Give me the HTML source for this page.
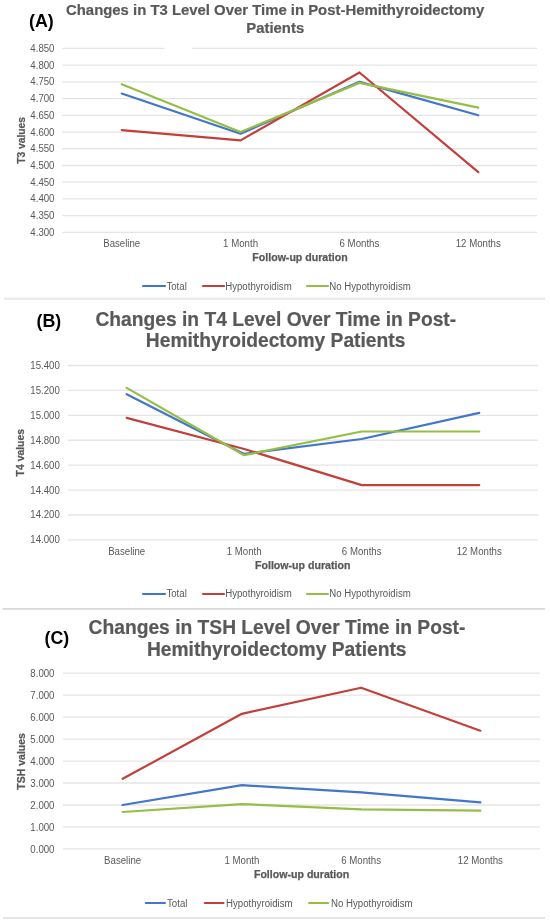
<!DOCTYPE html>
<html><head><meta charset="utf-8"><title>Thyroid levels</title>
<style>
html,body{margin:0;padding:0;background:#fff}
svg{display:block}
text{font-family:"Liberation Sans",Arial,sans-serif}
.ax{font-size:10.6px;fill:#595959}
.axb{font-size:10.6px;font-weight:bold;fill:#595959;stroke:#595959;stroke-width:0.25px}
.pl{font-weight:bold;fill:#000}
.tt{font-weight:bold;fill:#595959;stroke:#595959;stroke-width:0.2px}
</style></head><body>
<svg width="550" height="922" viewBox="0 0 550 922">
<rect width="550" height="922" fill="#fff"/>
<line x1="62.3" y1="48.40" x2="537" y2="48.40" stroke="#E5E5E5" stroke-width="1.3"/>
<line x1="62.3" y1="65.13" x2="537" y2="65.13" stroke="#E5E5E5" stroke-width="1.3"/>
<line x1="62.3" y1="81.85" x2="537" y2="81.85" stroke="#E5E5E5" stroke-width="1.3"/>
<line x1="62.3" y1="98.58" x2="537" y2="98.58" stroke="#E5E5E5" stroke-width="1.3"/>
<line x1="62.3" y1="115.31" x2="537" y2="115.31" stroke="#E5E5E5" stroke-width="1.3"/>
<line x1="62.3" y1="132.04" x2="537" y2="132.04" stroke="#E5E5E5" stroke-width="1.3"/>
<line x1="62.3" y1="148.76" x2="537" y2="148.76" stroke="#E5E5E5" stroke-width="1.3"/>
<line x1="62.3" y1="165.49" x2="537" y2="165.49" stroke="#E5E5E5" stroke-width="1.3"/>
<line x1="62.3" y1="182.22" x2="537" y2="182.22" stroke="#E5E5E5" stroke-width="1.3"/>
<line x1="62.3" y1="198.95" x2="537" y2="198.95" stroke="#E5E5E5" stroke-width="1.3"/>
<line x1="62.3" y1="215.67" x2="537" y2="215.67" stroke="#E5E5E5" stroke-width="1.3"/>
<line x1="62.3" y1="232.40" x2="537" y2="232.40" stroke="#E5E5E5" stroke-width="1.3"/>
<text transform="translate(54.50,51.90) scale(0.913,1)" text-anchor="end" class="ax">4.850</text>
<text transform="translate(54.50,68.63) scale(0.913,1)" text-anchor="end" class="ax">4.800</text>
<text transform="translate(54.50,85.35) scale(0.913,1)" text-anchor="end" class="ax">4.750</text>
<text transform="translate(54.50,102.08) scale(0.913,1)" text-anchor="end" class="ax">4.700</text>
<text transform="translate(54.50,118.81) scale(0.913,1)" text-anchor="end" class="ax">4.650</text>
<text transform="translate(54.50,135.54) scale(0.913,1)" text-anchor="end" class="ax">4.600</text>
<text transform="translate(54.50,152.26) scale(0.913,1)" text-anchor="end" class="ax">4.550</text>
<text transform="translate(54.50,168.99) scale(0.913,1)" text-anchor="end" class="ax">4.500</text>
<text transform="translate(54.50,185.72) scale(0.913,1)" text-anchor="end" class="ax">4.450</text>
<text transform="translate(54.50,202.45) scale(0.913,1)" text-anchor="end" class="ax">4.400</text>
<text transform="translate(54.50,219.17) scale(0.913,1)" text-anchor="end" class="ax">4.350</text>
<text transform="translate(54.50,235.90) scale(0.913,1)" text-anchor="end" class="ax">4.300</text>
<polyline points="121.72,93.56 240.57,133.71 359.43,81.85 478.28,115.31" fill="none" stroke="#4176C9" stroke-width="2.2" stroke-linejoin="round" stroke-linecap="round"/>
<polyline points="121.72,130.03 240.57,140.40 359.43,72.49 478.28,172.18" fill="none" stroke="#C2403B" stroke-width="2.2" stroke-linejoin="round" stroke-linecap="round"/>
<polyline points="121.72,84.20 240.57,132.04 359.43,82.86 478.28,107.61" fill="none" stroke="#96BE46" stroke-width="2.2" stroke-linejoin="round" stroke-linecap="round"/>
<text transform="translate(121.72,246.90) scale(0.913,1)" text-anchor="middle" class="ax">Baseline</text>
<text transform="translate(240.57,246.90) scale(0.913,1)" text-anchor="middle" class="ax">1 Month</text>
<text transform="translate(359.43,246.90) scale(0.913,1)" text-anchor="middle" class="ax">6 Months</text>
<text transform="translate(478.28,246.90) scale(0.913,1)" text-anchor="middle" class="ax">12 Months</text>
<text x="300" y="261.4" text-anchor="middle" class="axb">Follow-up duration</text>
<text transform="translate(24.6,140.4) rotate(-90)" text-anchor="middle" class="axb" style="font-size:10.25px">T3 values</text>
<line x1="143" y1="286" x2="165" y2="286" stroke="#4176C9" stroke-width="2.2" stroke-linecap="round"/>
<text transform="translate(166.40,289.70) scale(0.913,1)" text-anchor="start" class="ax">Total</text>
<line x1="203" y1="286" x2="224" y2="286" stroke="#C2403B" stroke-width="2.2" stroke-linecap="round"/>
<text transform="translate(225.20,289.70) scale(0.913,1)" text-anchor="start" class="ax">Hypothyroidism</text>
<line x1="307" y1="286" x2="328" y2="286" stroke="#96BE46" stroke-width="2.2" stroke-linecap="round"/>
<text transform="translate(329.20,289.70) scale(0.913,1)" text-anchor="start" class="ax">No Hypothyroidism</text>
<text x="29" y="26.7" class="pl" style="font-size:17.8px">(A)</text>
<text transform="translate(275.2,15.4) scale(0.9675,1)" text-anchor="middle" class="tt" style="font-size:15.4px">Changes in T3 Level Over Time in Post-Hemithyroidectomy</text>
<text transform="translate(275.2,32.6) scale(0.9675,1)" text-anchor="middle" class="tt" style="font-size:15.4px">Patients</text>
<rect x="164.5" y="44" width="27.5" height="8" fill="#fff"/>
<line x1="4" y1="297.6" x2="545" y2="297.6" stroke="#F6F6F6" stroke-width="1.6"/>
<line x1="4" y1="299" x2="545" y2="299" stroke="#E6E6E6" stroke-width="1.6"/>
<line x1="67.9" y1="365.50" x2="538" y2="365.50" stroke="#E5E5E5" stroke-width="1.3"/>
<line x1="67.9" y1="390.41" x2="538" y2="390.41" stroke="#E5E5E5" stroke-width="1.3"/>
<line x1="67.9" y1="415.33" x2="538" y2="415.33" stroke="#E5E5E5" stroke-width="1.3"/>
<line x1="67.9" y1="440.24" x2="538" y2="440.24" stroke="#E5E5E5" stroke-width="1.3"/>
<line x1="67.9" y1="465.16" x2="538" y2="465.16" stroke="#E5E5E5" stroke-width="1.3"/>
<line x1="67.9" y1="490.07" x2="538" y2="490.07" stroke="#E5E5E5" stroke-width="1.3"/>
<line x1="67.9" y1="514.99" x2="538" y2="514.99" stroke="#E5E5E5" stroke-width="1.3"/>
<line x1="67.9" y1="539.90" x2="538" y2="539.90" stroke="#E5E5E5" stroke-width="1.3"/>
<text transform="translate(59.80,369.00) scale(0.913,1)" text-anchor="end" class="ax">15.400</text>
<text transform="translate(59.80,393.91) scale(0.913,1)" text-anchor="end" class="ax">15.200</text>
<text transform="translate(59.80,418.83) scale(0.913,1)" text-anchor="end" class="ax">15.000</text>
<text transform="translate(59.80,443.74) scale(0.913,1)" text-anchor="end" class="ax">14.800</text>
<text transform="translate(59.80,468.66) scale(0.913,1)" text-anchor="end" class="ax">14.600</text>
<text transform="translate(59.80,493.57) scale(0.913,1)" text-anchor="end" class="ax">14.400</text>
<text transform="translate(59.80,518.49) scale(0.913,1)" text-anchor="end" class="ax">14.200</text>
<text transform="translate(59.80,543.40) scale(0.913,1)" text-anchor="end" class="ax">14.000</text>
<polyline points="126.66,394.15 244.19,453.95 361.71,439.00 479.24,412.84" fill="none" stroke="#4176C9" stroke-width="2.2" stroke-linejoin="round" stroke-linecap="round"/>
<polyline points="126.66,417.82 244.19,448.96 361.71,485.09 479.24,485.09" fill="none" stroke="#C2403B" stroke-width="2.2" stroke-linejoin="round" stroke-linecap="round"/>
<polyline points="126.66,387.92 244.19,455.19 361.71,431.52 479.24,431.52" fill="none" stroke="#96BE46" stroke-width="2.2" stroke-linejoin="round" stroke-linecap="round"/>
<text transform="translate(126.66,554.70) scale(0.913,1)" text-anchor="middle" class="ax">Baseline</text>
<text transform="translate(244.19,554.70) scale(0.913,1)" text-anchor="middle" class="ax">1 Month</text>
<text transform="translate(361.71,554.70) scale(0.913,1)" text-anchor="middle" class="ax">6 Months</text>
<text transform="translate(479.24,554.70) scale(0.913,1)" text-anchor="middle" class="ax">12 Months</text>
<text x="302.7" y="569.0" text-anchor="middle" class="axb">Follow-up duration</text>
<text transform="translate(24.4,452.7) rotate(-90)" text-anchor="middle" class="axb" style="font-size:10.4px">T4 values</text>
<line x1="143" y1="594" x2="165" y2="594" stroke="#4176C9" stroke-width="2.2" stroke-linecap="round"/>
<text transform="translate(166.40,597.20) scale(0.913,1)" text-anchor="start" class="ax">Total</text>
<line x1="203" y1="594" x2="224" y2="594" stroke="#C2403B" stroke-width="2.2" stroke-linecap="round"/>
<text transform="translate(225.20,597.20) scale(0.913,1)" text-anchor="start" class="ax">Hypothyroidism</text>
<line x1="307" y1="594" x2="328" y2="594" stroke="#96BE46" stroke-width="2.2" stroke-linecap="round"/>
<text transform="translate(329.20,597.20) scale(0.913,1)" text-anchor="start" class="ax">No Hypothyroidism</text>
<text x="36.5" y="326.6" class="pl" style="font-size:17.8px">(B)</text>
<text transform="translate(275.8,326.0) scale(0.9615,1)" text-anchor="middle" class="tt" style="font-size:20.0px">Changes in T4 Level Over Time in Post-</text>
<text transform="translate(275.6,346.8) scale(0.9615,1)" text-anchor="middle" class="tt" style="font-size:20.0px">Hemithyroidectomy Patients</text>
<line x1="2.5" y1="608.8" x2="545" y2="608.8" stroke="#D8D8D8" stroke-width="1.7"/>
<line x1="63" y1="673.20" x2="540" y2="673.20" stroke="#E5E5E5" stroke-width="1.3"/>
<line x1="63" y1="695.16" x2="540" y2="695.16" stroke="#E5E5E5" stroke-width="1.3"/>
<line x1="63" y1="717.12" x2="540" y2="717.12" stroke="#E5E5E5" stroke-width="1.3"/>
<line x1="63" y1="739.09" x2="540" y2="739.09" stroke="#E5E5E5" stroke-width="1.3"/>
<line x1="63" y1="761.05" x2="540" y2="761.05" stroke="#E5E5E5" stroke-width="1.3"/>
<line x1="63" y1="783.01" x2="540" y2="783.01" stroke="#E5E5E5" stroke-width="1.3"/>
<line x1="63" y1="804.98" x2="540" y2="804.98" stroke="#E5E5E5" stroke-width="1.3"/>
<line x1="63" y1="826.94" x2="540" y2="826.94" stroke="#E5E5E5" stroke-width="1.3"/>
<line x1="63" y1="848.90" x2="540" y2="848.90" stroke="#E5E5E5" stroke-width="1.3"/>
<text transform="translate(54.50,677.10) scale(0.913,1)" text-anchor="end" class="ax">8.000</text>
<text transform="translate(54.50,699.06) scale(0.913,1)" text-anchor="end" class="ax">7.000</text>
<text transform="translate(54.50,721.02) scale(0.913,1)" text-anchor="end" class="ax">6.000</text>
<text transform="translate(54.50,742.99) scale(0.913,1)" text-anchor="end" class="ax">5.000</text>
<text transform="translate(54.50,764.95) scale(0.913,1)" text-anchor="end" class="ax">4.000</text>
<text transform="translate(54.50,786.91) scale(0.913,1)" text-anchor="end" class="ax">3.000</text>
<text transform="translate(54.50,808.88) scale(0.913,1)" text-anchor="end" class="ax">2.000</text>
<text transform="translate(54.50,830.84) scale(0.913,1)" text-anchor="end" class="ax">1.000</text>
<text transform="translate(54.50,852.80) scale(0.913,1)" text-anchor="end" class="ax">0.000</text>
<polyline points="122.62,804.98 241.88,785.21 361.12,792.46 480.38,802.34" fill="none" stroke="#4176C9" stroke-width="2.2" stroke-linejoin="round" stroke-linecap="round"/>
<polyline points="122.62,778.84 241.88,713.83 361.12,687.70 480.38,730.74" fill="none" stroke="#C2403B" stroke-width="2.2" stroke-linejoin="round" stroke-linecap="round"/>
<polyline points="122.62,812.00 241.88,804.10 361.12,809.37 480.38,810.69" fill="none" stroke="#96BE46" stroke-width="2.2" stroke-linejoin="round" stroke-linecap="round"/>
<text transform="translate(122.62,863.80) scale(0.913,1)" text-anchor="middle" class="ax">Baseline</text>
<text transform="translate(241.88,863.80) scale(0.913,1)" text-anchor="middle" class="ax">1 Month</text>
<text transform="translate(361.12,863.80) scale(0.913,1)" text-anchor="middle" class="ax">6 Months</text>
<text transform="translate(480.38,863.80) scale(0.913,1)" text-anchor="middle" class="ax">12 Months</text>
<text x="301.6" y="878.3" text-anchor="middle" class="axb">Follow-up duration</text>
<text transform="translate(24.5,761.4) rotate(-90)" text-anchor="middle" class="axb" style="font-size:10.5px">TSH values</text>
<line x1="145.8" y1="903" x2="164.9" y2="903" stroke="#4176C9" stroke-width="2.2" stroke-linecap="round"/>
<text transform="translate(167.00,906.70) scale(0.913,1)" text-anchor="start" class="ax">Total</text>
<line x1="204.8" y1="903" x2="223.5" y2="903" stroke="#C2403B" stroke-width="2.2" stroke-linecap="round"/>
<text transform="translate(226.00,906.70) scale(0.913,1)" text-anchor="start" class="ax">Hypothyroidism</text>
<line x1="309.1" y1="903" x2="328.1" y2="903" stroke="#96BE46" stroke-width="2.2" stroke-linecap="round"/>
<text transform="translate(331.00,906.70) scale(0.913,1)" text-anchor="start" class="ax">No Hypothyroidism</text>
<text x="44.5" y="644.3" class="pl" style="font-size:17.8px">(C)</text>
<text transform="translate(277,633.9) scale(0.962,1)" text-anchor="middle" class="tt" style="font-size:20.0px">Changes in TSH Level Over Time in Post-</text>
<text transform="translate(276.7,655.5) scale(0.962,1)" text-anchor="middle" class="tt" style="font-size:20.0px">Hemithyroidectomy Patients</text>
<line x1="3" y1="918" x2="545" y2="918" stroke="#DCDCDC" stroke-width="1.3"/>
</svg>
</body></html>
